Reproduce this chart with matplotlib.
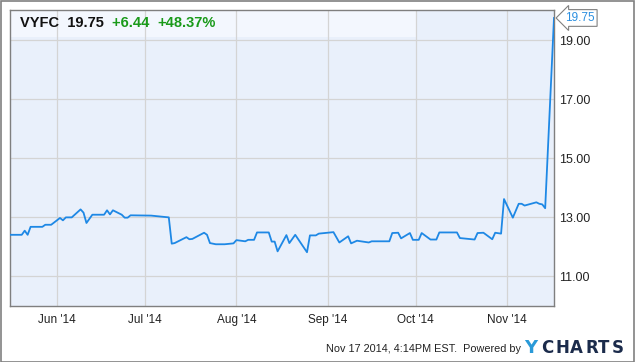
import matplotlib
matplotlib.use("Agg")
import matplotlib.pyplot as plt
import pandas as pd
from matplotlib.patches import Rectangle

plt.rcParams["font.family"] = ["Liberation Sans", "DejaVu Sans"]

dates = ["2014-05-16", "2014-05-20", "2014-05-21", "2014-05-22", "2014-05-23", "2014-05-27",
         "2014-05-28", "2014-05-30", "2014-06-02", "2014-06-03", "2014-06-04", "2014-06-06",
         "2014-06-09", "2014-06-10", "2014-06-11", "2014-06-13", "2014-06-17", "2014-06-18",
         "2014-06-19", "2014-06-20", "2014-06-23", "2014-06-24", "2014-06-25", "2014-06-26",
         "2014-07-03", "2014-07-09", "2014-07-10", "2014-07-11", "2014-07-15", "2014-07-16",
         "2014-07-17", "2014-07-21", "2014-07-22", "2014-07-23", "2014-07-25", "2014-07-28",
         "2014-07-31", "2014-08-01", "2014-08-04", "2014-08-05", "2014-08-07", "2014-08-08",
         "2014-08-12", "2014-08-13", "2014-08-14", "2014-08-15", "2014-08-18", "2014-08-19",
         "2014-08-21", "2014-08-25", "2014-08-26", "2014-08-28", "2014-08-29", "2014-09-03",
         "2014-09-05", "2014-09-08", "2014-09-09", "2014-09-11", "2014-09-15", "2014-09-16",
         "2014-09-22", "2014-09-23", "2014-09-25", "2014-09-26", "2014-09-29", "2014-09-30",
         "2014-10-02", "2014-10-03", "2014-10-06", "2014-10-08", "2014-10-09", "2014-10-15",
         "2014-10-16", "2014-10-21", "2014-10-22", "2014-10-24", "2014-10-27", "2014-10-28",
         "2014-10-30", "2014-10-31", "2014-11-03", "2014-11-05", "2014-11-06", "2014-11-07",
         "2014-11-11", "2014-11-12", "2014-11-13", "2014-11-14", "2014-11-17"]
prices = [12.41, 12.41, 12.55, 12.41, 12.68, 12.68,
          12.75, 12.75, 12.98, 12.90, 13.00, 13.00,
          13.27, 13.16, 12.81, 13.09, 13.09, 13.24,
          13.10, 13.24, 13.09, 12.99, 12.99, 13.07,
          13.06, 13.00, 12.11, 12.13, 12.33, 12.26,
          12.27, 12.48, 12.41, 12.13, 12.09, 12.09,
          12.12, 12.23, 12.19, 12.24, 12.24, 12.49,
          12.49, 12.18, 12.18, 11.85, 12.40, 12.13,
          12.41, 11.82, 12.39, 12.39, 12.45, 12.50,
          12.15, 12.36, 12.12, 12.21, 12.15, 12.19,
          12.19, 12.47, 12.48, 12.29, 12.47, 12.24,
          12.24, 12.47, 12.25, 12.25, 12.49, 12.49,
          12.30, 12.25, 12.47, 12.48, 12.26, 12.48,
          12.45, 13.62, 12.99, 13.46, 13.46, 13.40,
          13.51, 13.46, 13.44, 13.31, 19.75]

ticker = "VYFC"
last_price = "19.75"
change = "+6.44"
change_pct = "+48.37%"
y_ticks = [11, 13, 15, 17, 19]
x_tick_dates = ["2014-06-01", "2014-07-01", "2014-08-01", "2014-09-01", "2014-10-01", "2014-11-01"]
x_tick_labels = ["Jun '14", "Jul '14", "Aug '14", "Sep '14", "Oct '14", "Nov '14"]
footer = "Nov 17 2014, 4:14PM EST.  Powered by"
logo_first = "Y"
logo_rest = "CHARTS"

x = pd.to_datetime(dates)
W, H = 635, 362
fig = plt.figure(figsize=(W / 100, H / 100), dpi=100)
fig.patch.set_facecolor("white")
ax = fig.add_axes([10 / W, 1 - 306 / H, 544 / W, 296 / H])
ax.set_facecolor("#e9f0fb")

# header band
ax.add_patch(Rectangle((0, 0.909), 0.746, 0.091, transform=ax.transAxes,
                       facecolor="#f3f7fe", edgecolor="none", zorder=0.5))

ax.plot(x, prices, color="#1e88e5", lw=1.3, zorder=3)

ax.set_xlim(pd.Timestamp("2014-05-16"), pd.Timestamp("2014-11-17"))
ax.set_ylim(10.0, 20.02)

ax.set_yticks(y_ticks)
ax.set_yticklabels([f"{v:.2f}" for v in y_ticks])
ax.yaxis.tick_right()
ax.set_xticks(pd.to_datetime(x_tick_dates))
ax.set_xticklabels(x_tick_labels)
ax.tick_params(axis="both", length=0, colors="#222222")
ax.tick_params(axis="x", labelsize=8.5, pad=6)
ax.tick_params(axis="y", labelsize=9, pad=4)
ax.grid(True, color="#d4d4d4", lw=0.9, zorder=1)
ax.set_axisbelow(True)
for s in ax.spines.values():
    s.set_color("#7f7f7f")
    s.set_linewidth(1.0)

# title
t = ax.text(0.018, 0.955, ticker + "  " + last_price + "  ", transform=ax.transAxes,
            fontsize=10.5, fontweight="bold", color="#111111", va="center", ha="left")
fig.canvas.draw()
t2 = ax.annotate(change + "  ", xycoords=t, xy=(1, 0.5), va="center", ha="left",
                 fontsize=10.5, fontweight="bold", color="#1a9a1a")
ax.annotate(change_pct, xycoords=t2, xy=(1, 0.5), va="center", ha="left",
            fontsize=10.5, fontweight="bold", color="#1a9a1a")

# last price label box
ax.annotate(last_price, xy=(x[-1], prices[-1]), xytext=(8, 0), textcoords="offset points",
            va="center", ha="left", fontsize=8.5, color="#2b8fe0", annotation_clip=False,
            bbox=dict(boxstyle="larrow,pad=0.2", fc="white", ec="#808080", lw=0.8))

# footer
fig.text(521 / W, 1 - 349 / H, footer, fontsize=7.8, color="#222222", ha="right", va="center")
fig.text(531 / W, 1 - 348 / H, logo_first, fontsize=13, fontweight="bold", color="#2a9ad8",
         ha="center", va="center", family="DejaVu Sans")
logo_x = [547, 562.5, 576.5, 591.5, 604, 617.5]
for ch, px in zip(logo_rest, logo_x):
    fig.text(px / W, 1 - 348 / H, ch, fontsize=12, fontweight="bold", color="#1b2b4b",
             ha="center", va="center", family="DejaVu Sans")

# outer border
fig.add_artist(Rectangle((0.5 / W, 0.5 / H), 1 - 1.5 / W, 1 - 1.5 / H, transform=fig.transFigure,
                         fill=False, ec="#808080", lw=1.2))

fig.savefig("out.png", dpi=100)
